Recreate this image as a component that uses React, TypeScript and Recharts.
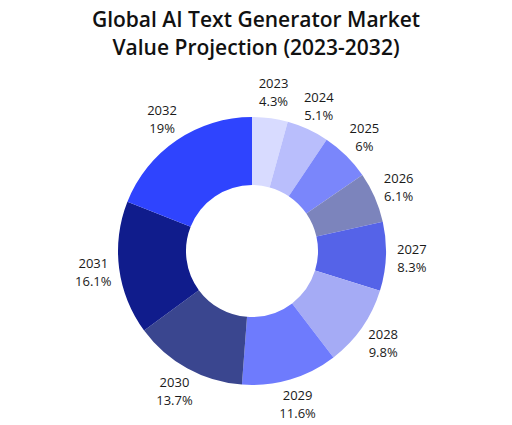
import { Cell, Pie, PieChart } from 'recharts';

const years = ['2023', '2024', '2025', '2026', '2027', '2028', '2029', '2030', '2031', '2032'];
const shares = [4.3, 5.1, 6, 6.1, 8.3, 9.8, 11.6, 13.7, 16.1, 19];
const colors = [
  '#d8dbff', '#b9befc', '#7a86fb', '#7c84bc', '#5563e8',
  '#a5abf5', '#6e7bfd', '#3a468f', '#101c8c', '#2f44fe'
];

const data = years.map((year, i) => ({ year, share: shares[i] }));

const RAD = Math.PI / 180;

function renderLabel(props: any) {
  const { cx, cy, midAngle, outerRadius, index } = props;
  const r = outerRadius + 26;
  const x = cx + r * Math.cos(-midAngle * RAD);
  const y = cy + r * Math.sin(-midAngle * RAD);
  return (
    <text x={x} y={y} textAnchor="middle" fontSize={13} fill="#1a1a1a" fontFamily="'Open Sans', sans-serif">
      <tspan x={x} dy={-4}>{years[index]}</tspan>
      <tspan x={x} dy={18}>{shares[index]}%</tspan>
    </text>
  );
}

export default function App() {
  return (
    <div style={{ position: 'absolute', left: 0, top: 0, width: 512, height: 425, background: '#fff' }}>
      <div
        style={{
          position: 'absolute',
          top: 5,
          left: 0,
          width: 512,
          textAlign: 'center',
          fontFamily: "'Open Sans', sans-serif",
          fontWeight: 600,
          fontSize: 21,
          lineHeight: '28px',
          color: '#111'
        }}
      >
        Global AI Text Generator Market
        <br />
        Value Projection (2023-2032)
      </div>
      <PieChart
        width={512}
        height={425}
        margin={{ top: 0, right: 0, bottom: 0, left: 0 }}
        style={{ position: 'absolute', left: 0, top: 0 }}
      >
        <Pie
          data={data}
          dataKey="share"
          nameKey="year"
          cx={252}
          cy={251}
          innerRadius={66}
          outerRadius={134}
          startAngle={90}
          endAngle={-270}
          stroke="none"
          label={renderLabel}
          labelLine={false}
          isAnimationActive={false}
        >
          {data.map((d, i) => (
            <Cell key={d.year} fill={colors[i]} />
          ))}
        </Pie>
      </PieChart>
    </div>
  );
}
